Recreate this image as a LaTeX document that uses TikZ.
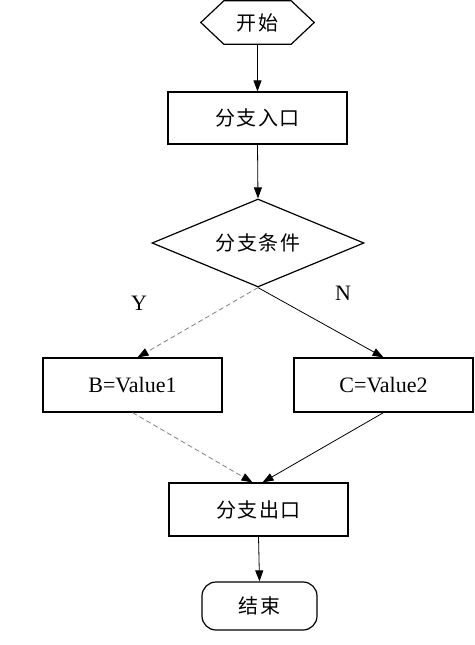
\documentclass[tikz,border=0pt]{standalone}
\usepackage{fontspec}
\setmainfont{Liberation Serif}
\newfontfamily\cjk[LetterSpace=8]{Noto Sans CJK SC}
\usetikzlibrary{arrows.meta,shapes.geometric}
\begin{document}
\begin{tikzpicture}[x=1pt,y=1pt,
  cjkfont/.style={font=\cjk\fontsize{20}{22}\selectfont},
  boxstyle/.style={draw, line width=1.2pt, rectangle, minimum width=179pt, minimum height=53pt, inner sep=0pt, cjkfont},
  valbox/.style={draw, line width=1.2pt, rectangle, minimum width=179pt, minimum height=54pt, inner sep=0pt, font=\fontsize{22}{24}\selectfont},
  conn/.style={line width=0.8pt, -{Triangle[length=11pt,width=8pt]}},
  dconn/.style={line width=0.8pt, draw=gray, dash pattern=on 5pt off 3pt, -{Triangle[length=11pt,width=8pt,color=black]}},
  lbl/.style={font=\fontsize{22}{24}\selectfont, inner sep=0pt}]
\useasboundingbox (0,0) rectangle (474,-645);
% start hexagon
\node[minimum width=113pt, minimum height=43pt, inner sep=0pt, cjkfont] (start) at (257.5,-22.5) {开始};
\draw[line width=1.2pt] (start.west) -- ([xshift=23pt]start.north west) -- ([xshift=-23pt]start.north east) -- (start.east) -- ([xshift=-23pt]start.south east) -- ([xshift=23pt]start.south west) -- cycle;
\node[boxstyle, minimum height=52pt] (entry) at (257.5,-118) {分支入口};
\node[draw, diamond, line width=1.2pt, aspect=2.4, minimum width=212pt, minimum height=88pt, inner sep=0pt, cjkfont] (cond) at (258,-243) {分支条件};
\node[valbox] (bval) at (132.5,-385) {B=Value1};
\node[valbox] (cval) at (383.5,-385) {C=Value2};
\node[boxstyle] (exit) at (258.5,-509.5) {分支出口};
\node[draw, line width=1.2pt, rounded corners=14pt, minimum width=115pt, minimum height=48pt, inner sep=0pt, cjkfont] (stop) at (259.5,-606) {结束};
\node[lbl] (ylbl) at (139,-303) {Y};
\node[lbl] (nlbl) at (343,-293) {N};
% connectors
\draw[conn] (start.south) -- (entry.north);
\draw[conn] (entry.south) -- (cond.north);
\draw[dconn] (cond.south) -- ([xshift=5pt]bval.north);
\draw[conn] (cond.south) -- (cval.north);
\draw[dconn] (bval.south) -- ([xshift=-6pt]exit.north);
\draw[conn] (cval.south) -- ([xshift=4pt]exit.north);
\draw[conn] (exit.south) -- (stop.north);
\end{tikzpicture}
\end{document}
